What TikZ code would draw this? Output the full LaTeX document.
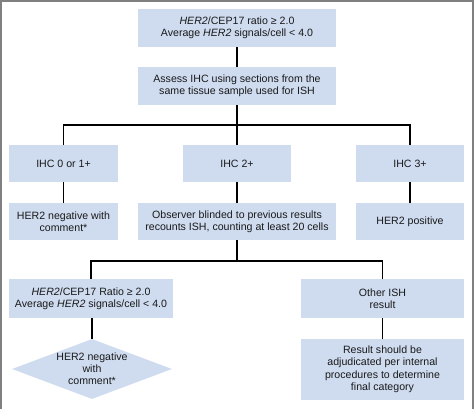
\documentclass[tikz,border=0pt]{standalone}
\usepackage{fontspec}
\setmainfont{Liberation Sans}
\usetikzlibrary{shapes.geometric}
\definecolor{boxblue}{RGB}{207,220,240}
\definecolor{framegray}{RGB}{128,128,128}
\definecolor{txt}{RGB}{25,25,25}
\tikzset{
  fbox/.style={fill=boxblue, draw=none, inner sep=0pt, align=center, text=txt,
    font=\fontsize{10.6}{11.8}\selectfont, minimum width=#1},
  fdiam/.style={diamond, fill=boxblue, draw=none, inner sep=0pt, align=center, text=txt,
    font=\fontsize{10.6}{11.8}\selectfont, shape aspect=2.67, minimum width=160pt, minimum height=60pt},
  conn/.style={draw=black, line width=1.1pt}
}
\begin{document}
\begin{tikzpicture}[x=1pt,y=-1pt]
\useasboundingbox (0,0) rectangle (474,409);
\fill[white] (0,0) rectangle (474,409);
\draw[framegray, line width=2.5pt] (1.2,409) -- (1.2,1.2) -- (472.8,1.2) -- (472.8,409);

\node[fbox=198pt, minimum height=38pt] (b1) at (237,28) {\emph{HER2}/CEP17 ratio ≥ 2.0\\Average \emph{HER2} signals/cell < 4.0};
\node[fbox=198pt, minimum height=38pt] (b2) at (237,86) {Assess IHC using sections from the\\same tissue sample used for ISH};

\node[fbox=109pt, minimum height=37pt] (l2) at (63.5,163.5) {IHC 0 or 1+};
\node[fbox=108pt, minimum height=37pt] (m2) at (237,163.5) {IHC 2+};
\node[fbox=108pt, minimum height=37pt] (r2) at (410,163.5) {IHC 3+};

\node[fbox=109pt, minimum height=37pt] (l3) at (63.5,221.5) {HER2 negative with\\comment*};
\node[fbox=198pt, minimum height=37pt] (m3) at (237,221.5) {Observer blinded to previous results\\recounts ISH, counting at least 20 cells};
\node[fbox=108pt, minimum height=37pt] (r3) at (410,221.5) {HER2 positive};

\node[fbox=164pt, minimum height=39pt] (l4) at (91,298.5) {\emph{HER2}/CEP17 Ratio ≥ 2.0\\Average \emph{HER2} signals/cell < 4.0};
\node[fbox=163pt, minimum height=39pt] (r4) at (382.5,298.5) {Other ISH\\result};

\node[fdiam] (d5) at (92,369) {HER2 negative\\with\\comment*};
\node[fbox=163pt, minimum height=61pt, font=\fontsize{10.6}{12.5}\selectfont] (r5) at (382.5,369.5) {Result should be\\adjudicated per internal\\procedures to determine\\final category};

\coordinate (j1) at (237,125);
\coordinate (j2) at (237,261);

\draw[conn] (b1) -- (b2);
\draw[conn] (b2) -- (m2);
\draw[conn] (l2.north) -- (l2.north |- j1) -- (r2.north |- j1) -- (r2.north);
\draw[conn] (l2) -- (l3);
\draw[conn] (m2) -- (m3);
\draw[conn] (r2) -- (r3);
\draw[conn] (m3.south) -- (j2);
\draw[conn] (l4.north) -- (l4.north |- j2) -- (r4.north |- j2) -- (r4.north);
\draw[conn] (l4.south) -- (l4.south -| d5.north) -- (d5.north);
\draw[conn] (r4) -- (r5);
\end{tikzpicture}
\end{document}
